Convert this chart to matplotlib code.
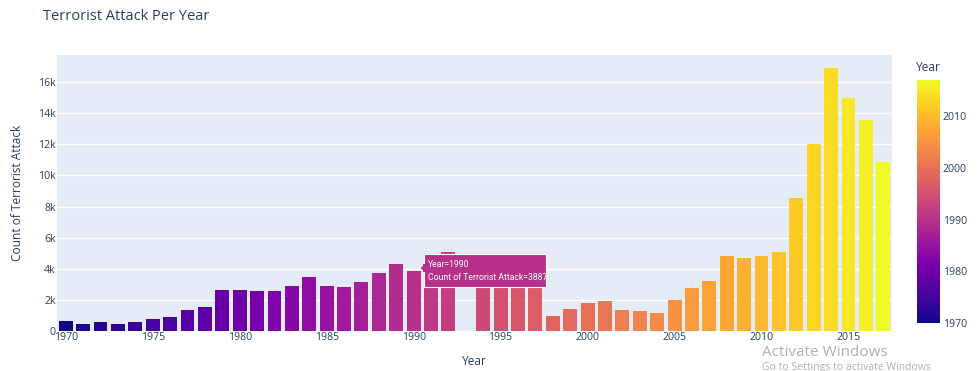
import numpy as np
import matplotlib.pyplot as plt
from matplotlib import cm, colors
from matplotlib.patches import Rectangle, Polygon

plt.rcParams['font.family'] = ['Open Sans', 'DejaVu Sans']

years = [1970, 1971, 1972, 1973, 1974, 1975, 1976, 1977, 1978, 1979,
         1980, 1981, 1982, 1983, 1984, 1985, 1986, 1987, 1988, 1989,
         1990, 1991, 1992, 1994, 1995, 1996, 1997, 1998, 1999,
         2000, 2001, 2002, 2003, 2004, 2005, 2006, 2007, 2008, 2009,
         2010, 2011, 2012, 2013, 2014, 2015, 2016, 2017]
attacks = [651, 471, 568, 473, 581, 740, 923, 1319, 1526, 2662,
           2662, 2586, 2544, 2870, 3495, 2915, 2860, 3183, 3721, 4324,
           3887, 4683, 5071, 3456, 3081, 3058, 3197, 934, 1395,
           1814, 1906, 1333, 1278, 1166, 2017, 2758, 3242, 4805, 4721,
           4826, 5076, 8522, 12036, 16903, 14965, 13587, 10900]
x_ticks = [1970, 1975, 1980, 1985, 1990, 1995, 2000, 2005, 2010, 2015]
y_ticks = [0, 2000, 4000, 6000, 8000, 10000, 12000, 14000, 16000]
y_labels = ['0', '2k', '4k', '6k', '8k', '10k', '12k', '14k', '16k']
cb_ticks = [1970, 1980, 1990, 2000, 2010]

txt = '#2a3f5f'
norm = colors.Normalize(vmin=min(years), vmax=max(years))
cmap = plt.get_cmap('plasma')

fig = plt.figure(figsize=(9.8, 3.71), dpi=100)
ax = fig.add_axes([0.0582, 0.1078, 0.852, 0.744])
ax.set_facecolor('#E5ECF6')
ax.bar(years, attacks, width=0.8, color=cmap(norm(np.array(years))), zorder=2)
ax.set_xlim(1969.5, 2017.5)
ax.set_ylim(0, 17750)
ax.set_yticks(y_ticks)
ax.set_yticklabels(y_labels)
ax.set_xticks(x_ticks)
ax.grid(axis='y', color='white', linewidth=1, zorder=1)
ax.set_axisbelow(True)
for s in ax.spines.values():
    s.set_visible(False)
ax.tick_params(length=0, labelsize=7.6, labelcolor=txt, pad=1)
ax.set_xlabel('Year', fontsize=8.6, color=txt, labelpad=8)
ax.set_ylabel('Count of Terrorist Attack', fontsize=8.6, color=txt, labelpad=10)
fig.text(0.044, 0.975, 'Terrorist Attack Per Year', fontsize=10.5, color=txt,
         va='top', ha='left')

# hover label for 1990
hc = cmap(norm(1990))
ax.add_patch(Rectangle((1990.62, 2830), 7.0, 2120, facecolor=hc, edgecolor='white',
                       linewidth=0.8, zorder=5))
ax.add_patch(Polygon([[1990.33, 4050], [1990.62, 3800], [1990.62, 4300]],
                     closed=True, facecolor=hc, edgecolor='white', linewidth=0.8, zorder=5))
ax.add_patch(Rectangle((1990.55, 3820), 0.15, 460, facecolor=hc, edgecolor='none', zorder=6))
tip_font = ['Roboto', 'DejaVu Sans']
ax.text(1990.85, 4250, 'Year=1990', fontsize=6.2, family=tip_font, color='white',
        va='center', zorder=7)
ax.text(1990.85, 3450, 'Count of Terrorist Attack=3887', fontsize=6.2, family=tip_font,
        color='white', va='center', zorder=7)

# colorbar
cax = fig.add_axes([0.9357, 0.1294, 0.0235, 0.655])
cb = fig.colorbar(cm.ScalarMappable(norm=norm, cmap=cmap), cax=cax, ticks=cb_ticks)
cb.outline.set_visible(False)
cax.tick_params(length=0, labelsize=7.6, labelcolor=txt, pad=2)
fig.text(0.935, 0.80, 'Year', fontsize=8.6, color=txt, ha='left', va='bottom')

# screenshot watermark
fig.text(0.778, 0.051, 'Activate Windows', fontsize=11, color='#b0b0b0', ha='left',
         va='center')
fig.text(0.778, 0.01, 'Go to Settings to activate Windows', fontsize=7.5, color='#b0b0b0',
         ha='left', va='center')

fig.savefig('out.png', dpi=100)
